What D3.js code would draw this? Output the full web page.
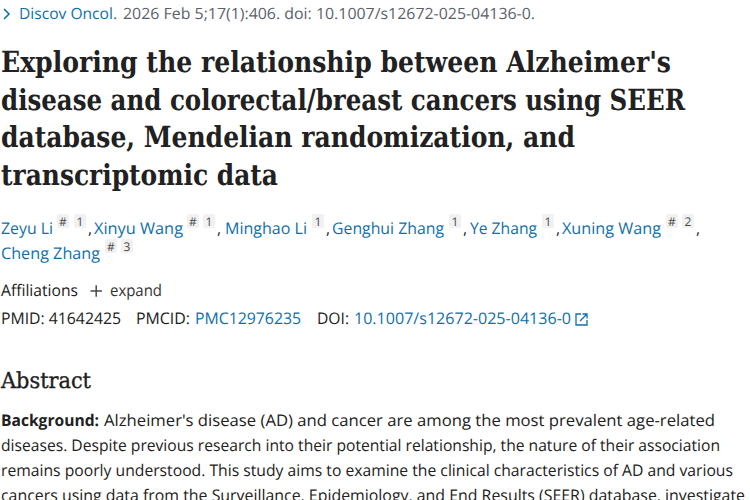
<!DOCTYPE html>
<html>
<head>
<meta charset="utf-8">
<script src="https://cdnjs.cloudflare.com/ajax/libs/d3/7.8.5/d3.min.js"></script>
<style>
  html, body { margin: 0; padding: 0; background: #fff; overflow: hidden; }
  svg { display: block; }
  text { font-family: "Open Sans", "Noto Sans", sans-serif; font-size: 16px; fill: #212121; text-rendering: geometricPrecision; }
  .serif { font-family: "DejaVu Serif", "Liberation Serif", serif; font-stretch: condensed; }
</style>
</head>
<body>
<svg id="page" width="750" height="500"></svg>
<script>
var citationSource = "Discov Oncol.";
var citationRest = "2026 Feb 5;17(1):406. doi: 10.1007/s12672-025-04136-0.";
var titleLines = [
  "Exploring the relationship between Alzheimer's",
  "disease and colorectal/breast cancers using SEER",
  "database, Mendelian randomization, and",
  "transcriptomic data"
];
var authorNames = ["Zeyu Li", "Xinyu Wang", "Minghao Li", "Genghui Zhang", "Ye Zhang", "Xuning Wang", "Cheng Zhang"];
var authorMarks = [["#", "1"], ["#", "1"], ["1"], ["1"], ["1"], ["#", "2"], ["#", "3"]];
var idLabels = ["PMID: 41642425", "PMCID:", "DOI:"];
var idLinks = ["PMC12976235", "10.1007/s12672-025-04136-0"];
var abstractLines = [
  "Alzheimer's disease (AD) and cancer are among the most prevalent age-related",
  "diseases. Despite previous research into their potential relationship, the nature of their association",
  "remains poorly understood. This study aims to examine the clinical characteristics of AD and various",
  "cancers using data from the Surveillance, Epidemiology, and End Results (SEER) database, investigate"
];

var LINK = "#0f6fab", DARK = "#212121", GREY = "#5b616b";
var svg = d3.select("#page");

// text stretched to the measured start and end of each run
function put(str, x0, x1, y, opts) {
  opts = opts || {};
  return svg.append("text")
    .attr("class", opts.cls || null)
    .attr("x", x0)
    .attr("y", y)
    .attr("textLength", x1 - x0)
    .attr("lengthAdjust", "spacingAndGlyphs")
    .style("font-size", opts.size ? opts.size + "px" : null)
    .style("font-weight", opts.weight || null)
    .style("fill", opts.fill || DARK)
    .text(str);
}

function badge(str, x0, y) {
  svg.append("rect").attr("x", x0).attr("y", y - 12).attr("width", 12).attr("height", 14)
    .attr("rx", 2).attr("fill", "#f1f1f1");
  svg.append("text").attr("x", x0 + 6).attr("y", y).attr("text-anchor", "middle")
    .style("font-size", "12px").style("fill", "#4a4a4a").text(str);
}

// citation
svg.append("path").attr("d", d3.line()([[4, 9], [9, 14], [4, 19]]))
  .attr("fill", "none").attr("stroke", LINK).attr("stroke-width", 1.6);
put(citationSource, 19, 117, 19, {fill: LINK, size: 15.5});
put(citationRest, 123, 535, 19, {fill: GREY, size: 15.5});

// title
var titleEnds = [671, 685, 575, 278];
var titleY = d3.scaleLinear().domain([0, 3]).range([72, 185]);
titleLines.forEach(function (line, i) {
  put(line, 1, titleEnds[i], titleY(i), {cls: "serif", size: 29, weight: "bold"});
});

// authors
var authorPos = [
  {x0: 1, x1: 53, y: 234, marks: [57, 74], comma: 88},
  {x0: 94, x1: 183, y: 234, marks: [187, 203], comma: 217},
  {x0: 225, x1: 307, y: 234, marks: [312], comma: 326},
  {x0: 332, x1: 444, y: 234, marks: [449], comma: 463},
  {x0: 470, x1: 537, y: 234, marks: [542], comma: 556},
  {x0: 562, x1: 661, y: 234, marks: [666, 682], comma: 696},
  {x0: 1, x1: 100, y: 259, marks: [105, 121]}
];
authorNames.forEach(function (name, i) {
  var p = authorPos[i];
  put(name, p.x0, p.x1, p.y, {fill: LINK});
  authorMarks[i].forEach(function (m, j) { badge(m, p.marks[j], p.y - 8); });
  if (p.comma) svg.append("text").attr("x", p.comma).attr("y", p.y).text(",");
});

// affiliations
put("Affiliations", 1, 78, 296);
svg.append("path").attr("d", "M90.5 291H102M96.2 285.2V296.8")
  .attr("stroke", "#4a4a4a").attr("stroke-width", 1.5);
put("expand", 110, 162, 296, {fill: "#333"});

// ids
put(idLabels[0], 1, 121, 324);
put(idLabels[1], 136, 190, 324);
put(idLinks[0], 195, 301, 324, {fill: LINK});
put(idLabels[2], 317, 349, 324);
put(idLinks[1], 354, 571, 324, {fill: LINK});
svg.append("path").attr("d", "M581 314H576V325H587V320M580 321L587 314M582.5 314H587V318.5")
  .attr("fill", "none").attr("stroke", LINK).attr("stroke-width", 1.3);

// abstract
put("Abstract", 1, 91, 388, {cls: "serif", size: 22, weight: "normal"})
  .attr("stroke", DARK).attr("stroke-width", 0.35);
put("Background:", 1, 99, 426, {weight: "bold"});
var abstractStart = [104, 1, 1, 1];
var abstractEnds = [715, 720, 733, 745];
var abstractY = d3.scaleLinear().domain([0, 3]).range([426, 501]);
abstractLines.forEach(function (line, i) {
  put(line, abstractStart[i], abstractEnds[i], abstractY(i));
});
</script>
</body>
</html>
